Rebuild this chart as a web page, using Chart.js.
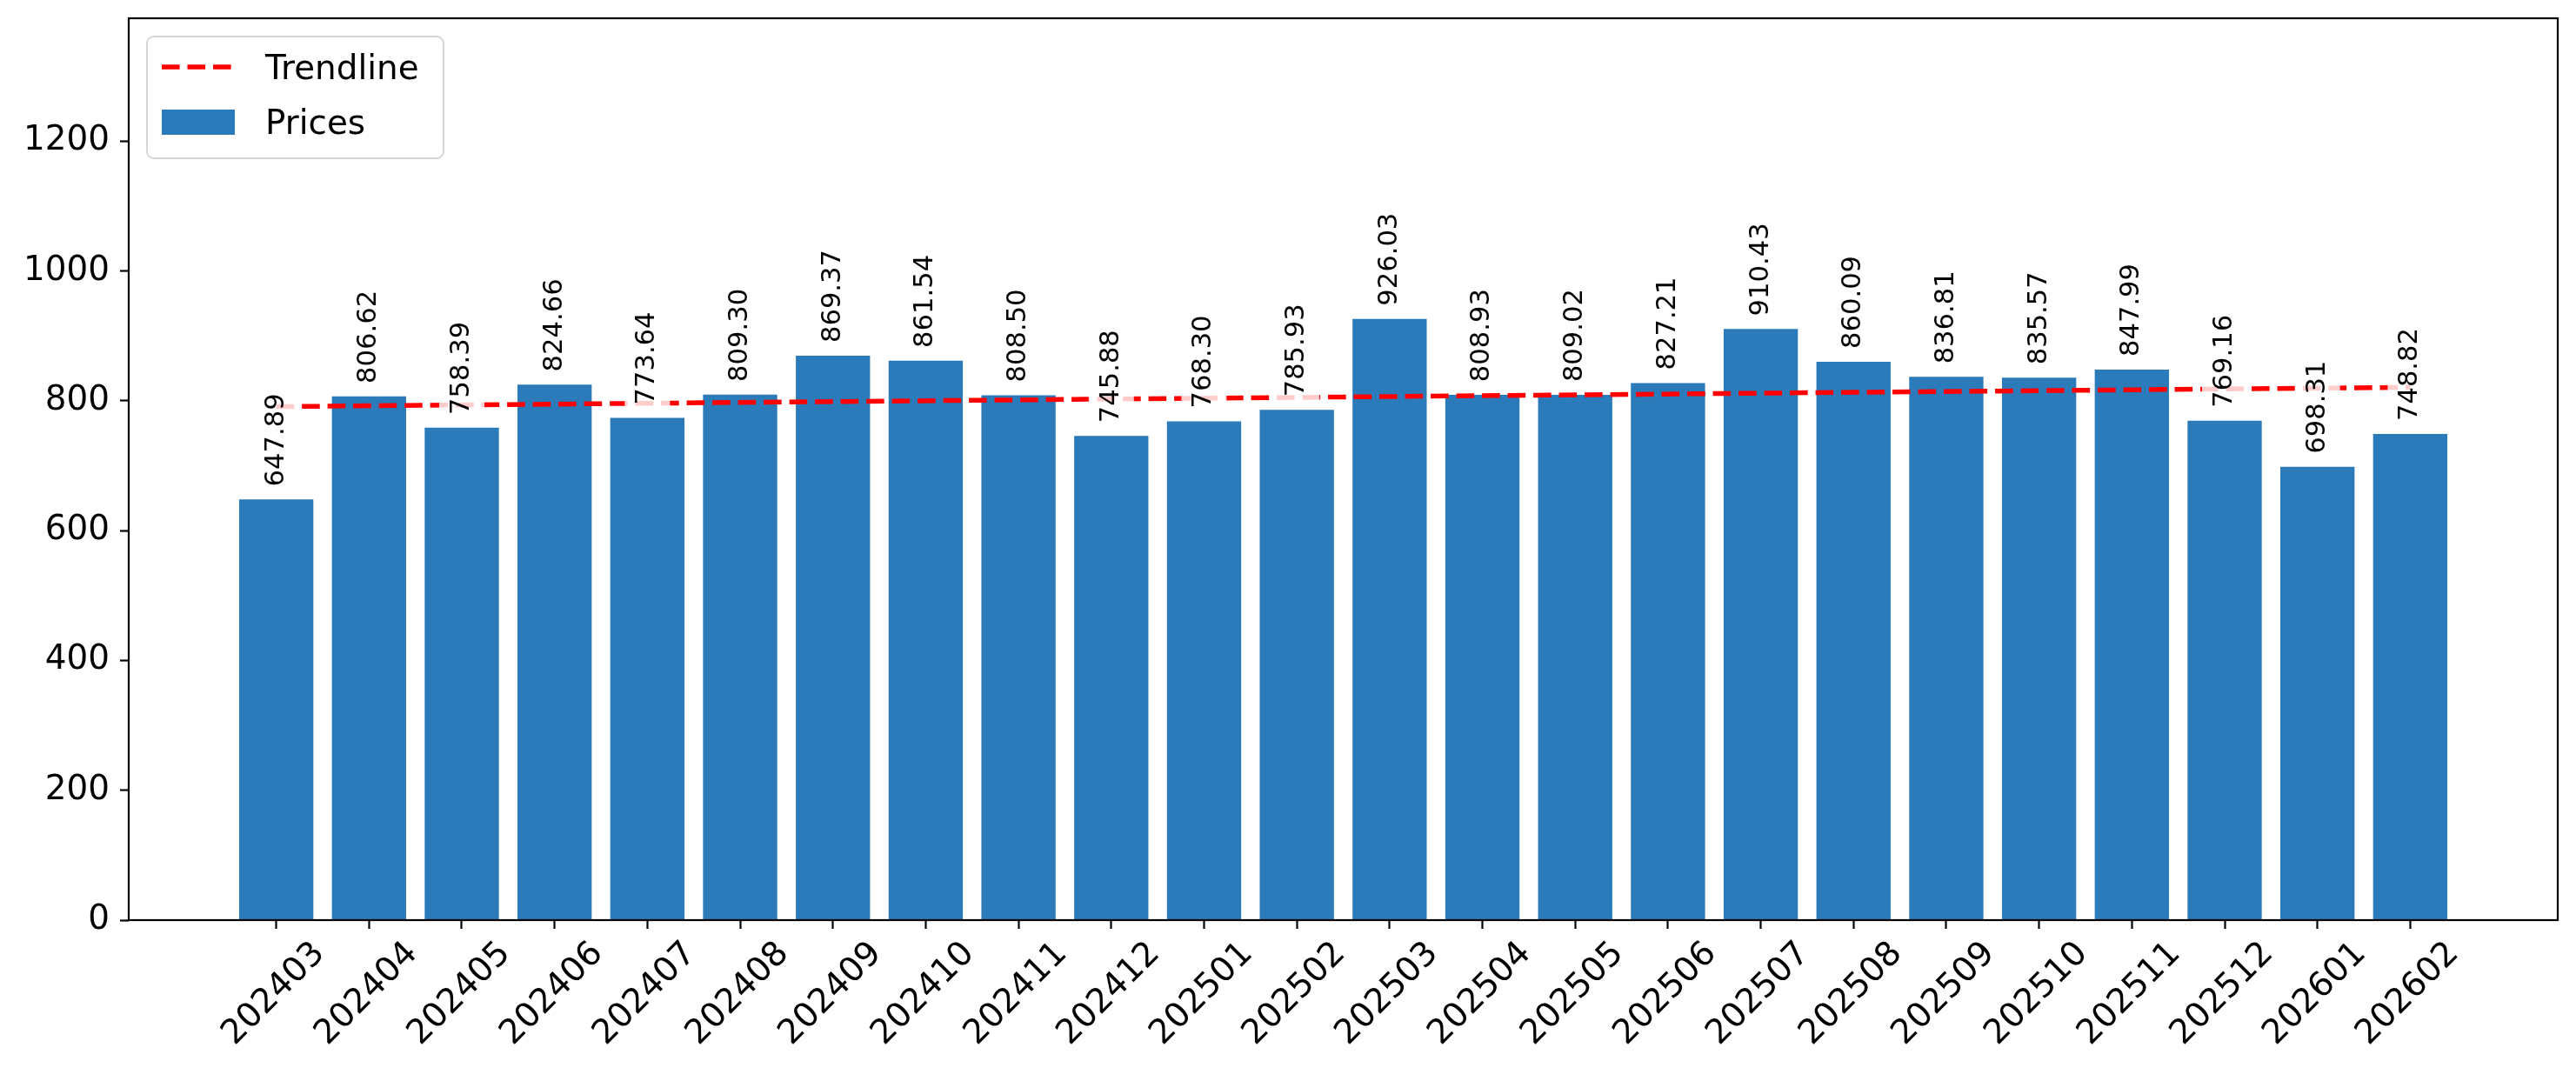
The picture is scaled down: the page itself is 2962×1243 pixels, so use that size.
<!DOCTYPE html>
<html>
<head>
<meta charset="utf-8">
<script src="https://cdn.jsdelivr.net/npm/chart.js@4.4.1/dist/chart.umd.min.js"></script>
<style>
html,body{margin:0;padding:0;background:#fff;}
#wrap{width:2962px;height:1243px;}
</style>
</head>
<body>
<div id="wrap"><canvas id="priceChart"></canvas></div>
<script>
const months = ['202403','202404','202405','202406','202407','202408','202409','202410',
  '202411','202412','202501','202502','202503','202504','202505','202506',
  '202507','202508','202509','202510','202511','202512','202601','202602'];
const prices = [647.89,806.62,758.39,824.66,773.64,809.30,869.37,861.54,
  808.50,745.88,768.30,785.93,926.03,808.93,809.02,827.21,
  910.43,860.09,836.81,835.57,847.99,769.16,698.31,748.82];
// trendline value at the first and the last month
const trendline = [790.86, 820.67];
const yTicks = [0,200,400,600,800,1000,1200];
const yMax = 1389.05;

const FONT = 'DejaVu Sans';
const barBlue = '#2b7bba';
const trendRed = '#ff0000';

const frame = {
  id: 'frame',
  afterDraw(chart) {
    const {ctx, chartArea: a} = chart;
    ctx.save();
    ctx.strokeStyle = '#000';
    ctx.lineWidth = 2.2;
    ctx.strokeRect(a.left, a.top, a.right - a.left, a.bottom - a.top);
    ctx.restore();
  }
};

const valueLabels = {
  id: 'valueLabels',
  afterDatasetsDraw(chart) {
    const {ctx, scales} = chart;
    ctx.save();
    ctx.font = '30.6px "' + FONT + '"';
    prices.forEach((p, i) => {
      const x = scales.x.getPixelForValue(i);
      const y = scales.y.getPixelForValue(p + 20);
      const txt = p.toFixed(2);
      const w = ctx.measureText(txt).width;
      ctx.save();
      ctx.translate(x, y);
      ctx.rotate(-Math.PI / 2);
      ctx.fillStyle = 'rgba(255,255,255,0.8)';
      ctx.fillRect(-9, -26, w + 18, 52);
      ctx.fillStyle = '#000';
      ctx.textAlign = 'left';
      ctx.textBaseline = 'middle';
      ctx.fillText(txt, 0, 0);
      ctx.restore();
    });
    ctx.restore();
  }
};

const boxLegend = {
  id: 'boxLegend',
  afterDraw(chart) {
    const {ctx, chartArea: a} = chart;
    const x0 = a.left + 21, y0 = a.top + 21;
    ctx.save();
    ctx.beginPath();
    ctx.roundRect(x0, y0, 341, 140, 8);
    ctx.fillStyle = 'rgba(255,255,255,0.8)';
    ctx.fill();
    ctx.strokeStyle = '#d6d6d6';
    ctx.lineWidth = 2;
    ctx.stroke();
    // trendline handle
    ctx.beginPath();
    ctx.setLineDash([20.6, 8.9]);
    ctx.strokeStyle = trendRed;
    ctx.lineWidth = 5.5;
    ctx.moveTo(x0 + 17, y0 + 35);
    ctx.lineTo(x0 + 101, y0 + 35);
    ctx.stroke();
    ctx.setLineDash([]);
    // prices handle
    ctx.fillStyle = barBlue;
    ctx.fillRect(x0 + 17, y0 + 84, 84, 29);
    ctx.fillStyle = '#000';
    ctx.font = '38.9px "' + FONT + '"';
    ctx.textAlign = 'left';
    ctx.textBaseline = 'middle';
    ctx.fillText('Trendline', x0 + 136, y0 + 39);
    ctx.fillText('Prices', x0 + 136, y0 + 102);
    ctx.restore();
  }
};

new Chart(document.getElementById('priceChart'), {
  type: 'bar',
  data: {
    datasets: [
      {
        type: 'line',
        label: 'Trendline',
        data: [{x: 0, y: trendline[0]}, {x: months.length - 1, y: trendline[1]}],
        borderColor: trendRed,
        borderWidth: 5.5,
        borderDash: [20.6, 8.9],
        pointRadius: 0,
        fill: false
      },
      {
        label: 'Prices',
        data: prices.map((p, i) => ({x: i, y: p})),
        backgroundColor: barBlue,
        borderWidth: 0,
        barPercentage: 0.8,
        categoryPercentage: 1.0
      }
    ]
  },
  options: {
    responsive: true,
    maintainAspectRatio: false,
    animation: false,
    layout: {padding: {top: 21, right: 21, left: 0, bottom: 0}},
    plugins: {legend: {display: false}, tooltip: {enabled: false}},
    scales: {
      x: {
        type: 'linear',
        offset: false,
        min: -1.59,
        max: 24.59,
        afterBuildTicks: s => { s.ticks = months.map((m, i) => ({value: i})); },
        afterFit: s => { s.height = 185; s.paddingLeft = 0; s.paddingRight = 0; },
        grid: {display: true, offset: false, drawOnChartArea: false, drawTicks: true,
               tickLength: 10, tickWidth: 2.2, tickColor: '#000'},
        border: {display: false},
        ticks: {
          autoSkip: false, minRotation: 45, maxRotation: 45, labelOffset: 50, padding: 6,
          color: '#000', font: {family: FONT, size: 38.9},
          callback: v => months[v]
        }
      },
      y: {
        min: 0,
        max: yMax,
        afterBuildTicks: s => { s.ticks = yTicks.map(v => ({value: v})); },
        afterFit: s => { s.width = 148; s.paddingTop = 0; s.paddingBottom = 0; },
        grid: {display: true, drawOnChartArea: false, drawTicks: true,
               tickLength: 10, tickWidth: 2.2, tickColor: '#000'},
        border: {display: false},
        ticks: {color: '#000', padding: 12, font: {family: FONT, size: 38.9},
                callback: v => String(v)}
      }
    }
  },
  plugins: [frame, valueLabels, boxLegend]
});
</script>
</body>
</html>
